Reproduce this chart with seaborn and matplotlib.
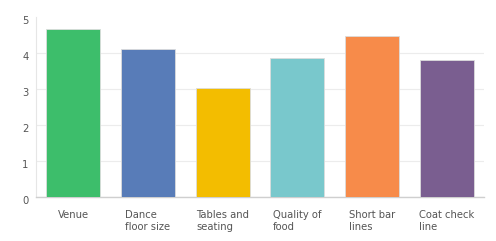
import matplotlib
matplotlib.use("Agg")
import matplotlib.pyplot as plt
import seaborn as sns
import pandas as pd
from matplotlib.transforms import ScaledTranslation

categories = ["Venue", "Dance\nfloor size", "Tables and\nseating", "Quality of\nfood", "Short bar\nlines", "Coat check\nline"]
values = [4.68, 4.10, 3.03, 3.85, 4.48, 3.80]
colors = ["#3dbe6b", "#587cb8", "#f3bd00", "#79c8cc", "#f78b4a", "#7a5e90"]
yticks = [0, 1, 2, 3, 4, 5]

sns.set_theme(style="white")
plt.rcParams['font.family'] = ['DejaVu Sans']

df = pd.DataFrame({"cat": categories, "val": values})

fig = plt.figure(figsize=(4.96, 2.41), dpi=100)
ax = fig.add_axes([36/496, 1 - 197/241, (484 - 36)/496, (197 - 17)/241])

sns.barplot(data=df, x="cat", y="val", hue="cat", palette=colors, legend=False,
            width=0.72, saturation=1, ax=ax, edgecolor="#dcdcdc", linewidth=0.6, zorder=3)

ax.set_xlim(-0.5, 5.5)
ax.set_ylim(0, 5)
ax.set_yticks(yticks)
ax.set_xlabel("")
ax.set_ylabel("")
ax.grid(axis="y", color="#ececec", linewidth=0.8, zorder=0)
ax.set_axisbelow(True)
for s in ["top", "right"]:
    ax.spines[s].set_visible(False)
ax.spines["left"].set_color("#e6e6e6")
ax.spines["left"].set_linewidth(0.8)
ax.spines["bottom"].set_color("#cfcfcf")
ax.spines["bottom"].set_linewidth(1.0)

ax.tick_params(axis="y", length=0, pad=5.5, labelsize=7.2, labelcolor="#555555")
ax.tick_params(axis="x", length=0, pad=9, labelsize=7.2, labelcolor="#555555")
for lbl in ax.get_yticklabels():
    lbl.set_transform(lbl.get_transform() + ScaledTranslation(0, -3/100, fig.dpi_scale_trans))
for lbl in ax.get_xticklabels():
    lbl.set_multialignment("left")
    lbl.set_linespacing(1.25)
ax.yaxis.get_gridlines()[-1].set_visible(False)

fig.savefig("out.png", dpi=100, facecolor="white")
